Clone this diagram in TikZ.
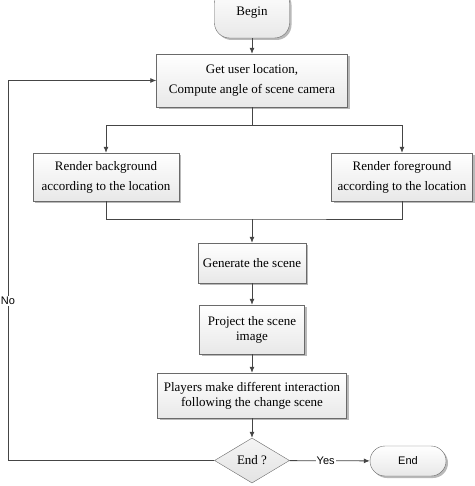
\documentclass[tikz,border=0pt]{standalone}
\usepackage{fontspec}
\setmainfont{Liberation Serif}
\newfontfamily\labelfont{Liberation Sans}
\usetikzlibrary{shapes.geometric,shadows,arrows.meta}
\definecolor{linegray}{HTML}{454545}
\definecolor{edgegray}{HTML}{6A6A6A}
\tikzset{
  box/.style={draw=edgegray, top color=white, bottom color=gray!18, inner sep=0pt,
    align=center, font=\fontsize{13}{15}\selectfont,
    drop shadow={shadow xshift=2pt, shadow yshift=-2pt, fill=gray!55, opacity=1}},
  terminal/.style={box, rounded corners=15pt},
  decision/.style={diamond, draw=edgegray, top color=gray!8, bottom color=gray!22,
    inner sep=0pt, font=\fontsize{13}{15}\selectfont},
  line/.style={draw=linegray, line width=.8pt},
  arr/.style={line, -{Latex[length=6pt,width=5pt]}},
  lbl/.style={fill=white, inner sep=1pt, font=\labelfont\fontsize{11}{13}\selectfont}
}
\begin{document}
\begin{tikzpicture}[x=1pt,y=-1pt]
        \useasboundingbox (0,0) rectangle (474,486);
        \node[terminal, minimum width=75pt, minimum height=50pt] (begin) at (252,13) {Begin};
        \node[box, minimum width=191pt, minimum height=53pt,
          font=\fontsize{13}{20}\selectfont] (get) at (252,80.5)
          {Get user location,\\Compute angle of scene camera};
        \node[box, minimum width=146pt, minimum height=48pt,
          font=\fontsize{13}{20}\selectfont] (bg) at (106,177)
          {Render background\\according to the location};
        \node[box, minimum width=141pt, minimum height=48pt,
          font=\fontsize{13}{20}\selectfont] (fg) at (402,177)
          {Render foreground\\according to the location};
        \node[box, minimum width=108pt, minimum height=40pt] (gen) at (252,263) {Generate the scene};
        \node[box, minimum width=105pt, minimum height=49pt] (proj) at (252,329.5)
          {Project the scene\\image};
        \node[box, minimum width=189pt, minimum height=45pt] (play) at (252,395.5)
          {Players make different interaction\\following the change scene};
        \node[decision, minimum width=75pt, minimum height=45pt] (dec) at (252,460.5) {End ?};
        \node[terminal, minimum width=76pt, minimum height=30pt,
          font=\labelfont\fontsize{11}{13}\selectfont] (end) at (408,461) {End};
        % connectors
        \draw[arr] (begin) -- (get);
        \draw[line] (get.south) -- ++(0,18) coordinate (split);
        \draw[arr] (split) -| (bg.north);
        \draw[arr] (split) -| (fg.north);
        \coordinate (merge) at (252,219);
        \draw[line] (bg.south) |- (merge) -| (fg.south);
        \draw[arr] (merge) -- (gen.north);
        \draw[arr] (gen) -- (proj);
        \draw[arr] (proj) -- (play);
        \draw[arr] (play) -- (dec);
        \draw[arr] (dec) -- node[lbl, pos=.45] {Yes} (end);
        \coordinate (lft) at (8,0);
        \draw[arr] (dec.west) -- (dec.west -| lft) -- node[lbl, pos=.42] {No} (get.west -| lft) -- (get.west);
      \end{tikzpicture}
\end{document}
